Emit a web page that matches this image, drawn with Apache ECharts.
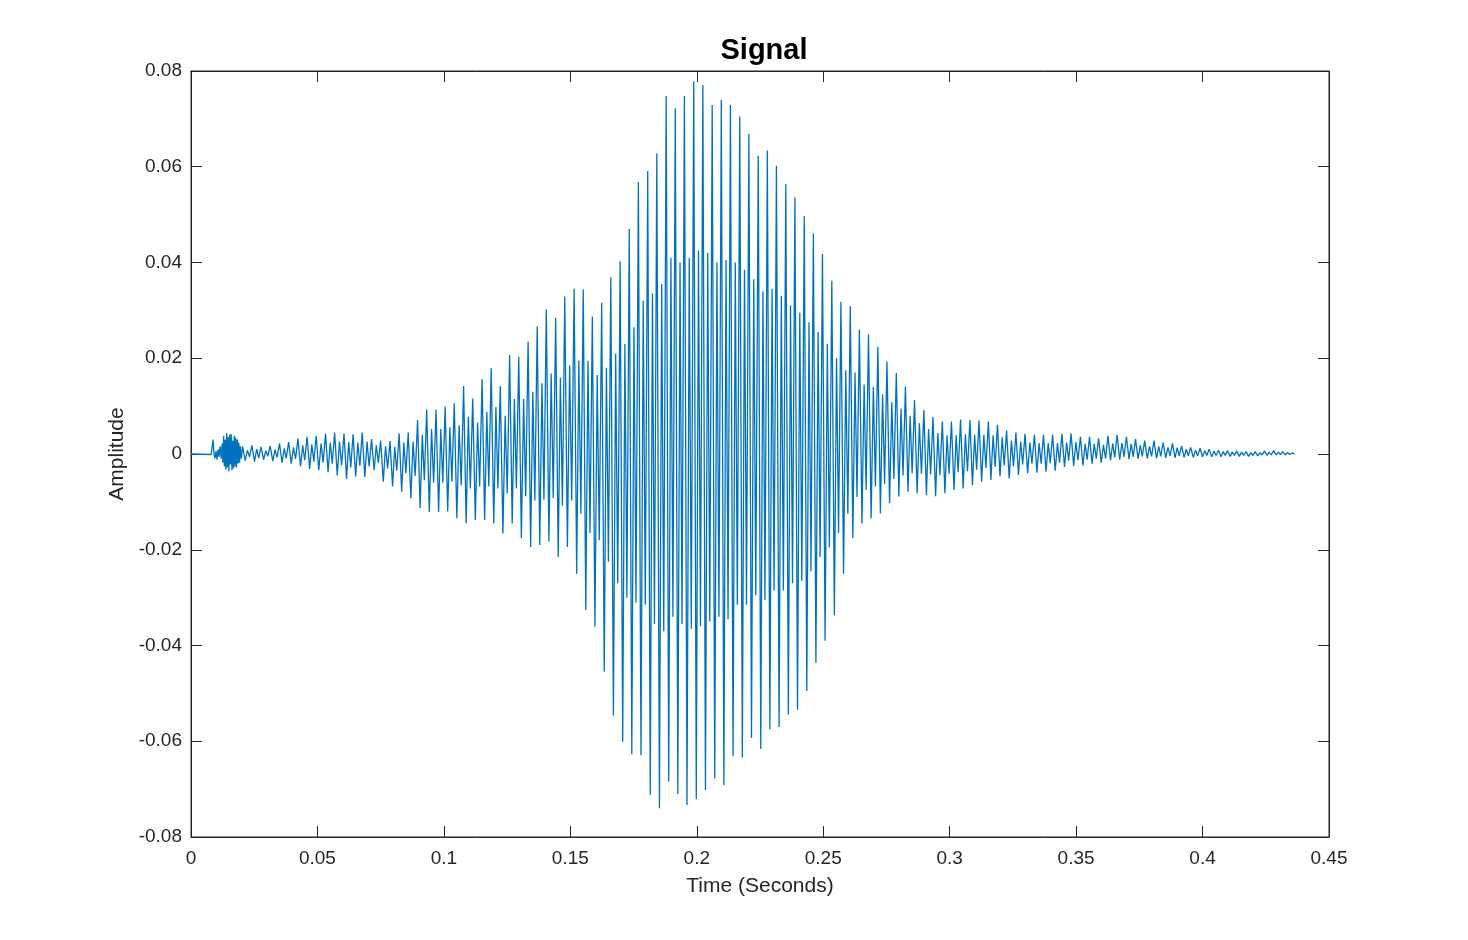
<!DOCTYPE html>
<html>
<head>
<meta charset="utf-8">
<script src="https://cdn.jsdelivr.net/npm/echarts@6/dist/echarts.min.js"></script>
<style>
html,body{margin:0;padding:0;background:#fff;}
#chart{width:1468px;height:940px;}
</style>
</head>
<body>
<div id="chart"></div>
<script>
// Tick labels
const xTicks = [0, 0.05, 0.1, 0.15, 0.2, 0.25, 0.3, 0.35, 0.4, 0.45];
const yTicks = [-0.08, -0.06, -0.04, -0.02, 0, 0.02, 0.04, 0.06, 0.08];

// Onset segment (time, amplitude)
const onsetTimes = [0.0000, 0.0080, 0.0087, 0.0091, 0.0095, 0.0099, 0.0103, 0.0107, 0.0111, 0.0115,
  0.0119, 0.0123, 0.0126, 0.0129, 0.0132, 0.0135, 0.0138, 0.0141, 0.0144, 0.0147,
  0.0150, 0.0153, 0.0156, 0.0159, 0.0162, 0.0165, 0.0168, 0.0171, 0.0174, 0.0177,
  0.0180, 0.0183, 0.0186, 0.0189, 0.0192, 0.0195, 0.0199];
const onsetValues = [0, -0.0001, 0.0030, 0.0000, -0.0009, 0.0006, -0.0012, 0.0010, -0.0006, 0.0016,
  -0.0010, 0.0022, -0.0018, 0.0038, -0.0026, 0.0030, -0.0033, 0.0044, -0.0028, 0.0036,
  -0.0036, 0.0040, -0.0022, 0.0042, -0.0034, 0.0028, -0.0030, 0.0038, -0.0026, 0.0034,
  -0.0028, 0.0030, -0.0020, 0.0024, -0.0018, 0.0016, -0.0010];

// Pitch cycles: time of each main peak
const cycleTimes = [0.0204, 0.0241, 0.0277, 0.0313, 0.0350, 0.0386, 0.0423, 0.0459, 0.0495, 0.0532,
  0.0568, 0.0605, 0.0641, 0.0677, 0.0714, 0.0750, 0.0787, 0.0823, 0.0859, 0.0896,
  0.0932, 0.0969, 0.1005, 0.1041, 0.1078, 0.1114, 0.1151, 0.1187, 0.1223, 0.1260,
  0.1296, 0.1333, 0.1369, 0.1405, 0.1442, 0.1478, 0.1515, 0.1551, 0.1587, 0.1624,
  0.1660, 0.1697, 0.1733, 0.1769, 0.1806, 0.1842, 0.1879, 0.1915, 0.1951, 0.1988,
  0.2024, 0.2061, 0.2097, 0.2133, 0.2170, 0.2206, 0.2243, 0.2279, 0.2315, 0.2352,
  0.2388, 0.2425, 0.2461, 0.2497, 0.2534, 0.2570, 0.2607, 0.2643, 0.2679, 0.2716,
  0.2752, 0.2789, 0.2825, 0.2861, 0.2898, 0.2934, 0.2971, 0.3007, 0.3043, 0.3080,
  0.3116, 0.3153, 0.3189, 0.3225, 0.3262, 0.3298, 0.3335, 0.3371, 0.3407, 0.3444,
  0.3480, 0.3517, 0.3553, 0.3589, 0.3626, 0.3662, 0.3699, 0.3735, 0.3771, 0.3808,
  0.3844, 0.3881, 0.3917, 0.3953, 0.3990, 0.4026, 0.4063, 0.4099, 0.4135, 0.4172,
  0.4208, 0.4245, 0.4281, 0.4317, 0.4354];

// Main positive peak of each cycle
const peakHigh = [0.0016, 0.0018, 0.0015, 0.0017, 0.0022, 0.0025, 0.0032, 0.0036, 0.0038, 0.0042,
  0.0045, 0.0043, 0.0041, 0.0045, 0.0031, 0.0028, 0.0027, 0.0043, 0.0045, 0.0071,
  0.0093, 0.0093, 0.0099, 0.0106, 0.0142, 0.0116, 0.0156, 0.0179, 0.0142, 0.0207,
  0.0203, 0.0235, 0.0267, 0.0302, 0.0284, 0.0329, 0.0345, 0.0344, 0.0287, 0.0316,
  0.0369, 0.0402, 0.0470, 0.0568, 0.0591, 0.0628, 0.0748, 0.0722, 0.0748, 0.0778,
  0.0771, 0.0729, 0.0740, 0.0729, 0.0705, 0.0669, 0.0623, 0.0634, 0.0602, 0.0564,
  0.0536, 0.0497, 0.0461, 0.0418, 0.0362, 0.0318, 0.0309, 0.0260, 0.0250, 0.0224,
  0.0193, 0.0169, 0.0141, 0.0113, 0.0092, 0.0077, 0.0068, 0.0068, 0.0072, 0.0071,
  0.0070, 0.0068, 0.0061, 0.0049, 0.0045, 0.0042, 0.0040, 0.0040, 0.0040, 0.0042,
  0.0043, 0.0036, 0.0036, 0.0033, 0.0038, 0.0040, 0.0036, 0.0031, 0.0028, 0.0028,
  0.0024, 0.0022, 0.0017, 0.0014, 0.0012, 0.0010, 0.0008, 0.0007, 0.0006, 0.0005,
  0.0005, 0.0006, 0.0007, 0.0005, 0.0002];

// Main negative trough of each cycle
const peakLow = [-0.0014, -0.0016, -0.0012, -0.0015, -0.0018, -0.0020, -0.0026, -0.0031, -0.0034, -0.0038,
  -0.0045, -0.0052, -0.0047, -0.0048, -0.0034, -0.0058, -0.0068, -0.0079, -0.0093, -0.0113,
  -0.0121, -0.0121, -0.0120, -0.0134, -0.0145, -0.0138, -0.0138, -0.0145, -0.0166, -0.0145,
  -0.0176, -0.0194, -0.0190, -0.0183, -0.0215, -0.0194, -0.0250, -0.0326, -0.0361, -0.0455,
  -0.0546, -0.0601, -0.0627, -0.0629, -0.0712, -0.0740, -0.0684, -0.0710, -0.0733, -0.0721,
  -0.0702, -0.0678, -0.0692, -0.0631, -0.0634, -0.0593, -0.0616, -0.0575, -0.0570, -0.0544,
  -0.0534, -0.0495, -0.0436, -0.0390, -0.0337, -0.0250, -0.0176, -0.0145, -0.0134, -0.0124,
  -0.0103, -0.0089, -0.0079, -0.0082, -0.0086, -0.0088, -0.0082, -0.0075, -0.0072, -0.0065,
  -0.0058, -0.0054, -0.0047, -0.0051, -0.0044, -0.0040, -0.0039, -0.0037, -0.0035, -0.0027,
  -0.0025, -0.0024, -0.0020, -0.0018, -0.0013, -0.0012, -0.0011, -0.0010, -0.0009, -0.0009,
  -0.0008, -0.0008, -0.0007, -0.0007, -0.0006, -0.0006, -0.0006, -0.0005, -0.0005, -0.0005,
  -0.0004, -0.0003, -0.0002, -0.0002, -0.0001];

// Secondary (inner) crest of each cycle
const innerHigh = [0.0008, 0.0010, 0.0007, 0.0009, 0.0012, 0.0014, 0.0018, 0.0020, 0.0022, 0.0024,
  0.0026, 0.0025, 0.0024, 0.0026, 0.0018, 0.0016, 0.0015, 0.0024, 0.0026, 0.0040,
  0.0052, 0.0052, 0.0056, 0.0060, 0.0078, 0.0066, 0.0088, 0.0098, 0.0080, 0.0115,
  0.0115, 0.0130, 0.0148, 0.0168, 0.0160, 0.0185, 0.0195, 0.0195, 0.0165, 0.0180,
  0.0210, 0.0230, 0.0265, 0.0320, 0.0335, 0.0355, 0.0410, 0.0400, 0.0410, 0.0425,
  0.0420, 0.0400, 0.0405, 0.0400, 0.0385, 0.0365, 0.0340, 0.0345, 0.0330, 0.0310,
  0.0295, 0.0275, 0.0255, 0.0230, 0.0200, 0.0175, 0.0170, 0.0145, 0.0140, 0.0125,
  0.0108, 0.0095, 0.0080, 0.0064, 0.0052, 0.0044, 0.0039, 0.0039, 0.0041, 0.0040,
  0.0040, 0.0039, 0.0035, 0.0028, 0.0026, 0.0024, 0.0023, 0.0023, 0.0023, 0.0024,
  0.0025, 0.0021, 0.0021, 0.0019, 0.0022, 0.0023, 0.0021, 0.0018, 0.0016, 0.0016,
  0.0014, 0.0013, 0.0010, 0.0008, 0.0007, 0.0006, 0.0005, 0.0004, 0.0004, 0.0003,
  0.0003, 0.0004, 0.0004, 0.0003, 0.0001];

// Secondary (inner) dip of each cycle
const innerLow = [-0.0006, -0.0008, -0.0005, -0.0007, -0.0009, -0.0010, -0.0013, -0.0016, -0.0018, -0.0020,
  -0.0024, -0.0028, -0.0025, -0.0026, -0.0018, -0.0030, -0.0035, -0.0040, -0.0046, -0.0055,
  -0.0060, -0.0060, -0.0058, -0.0066, -0.0072, -0.0068, -0.0068, -0.0072, -0.0082, -0.0072,
  -0.0088, -0.0097, -0.0095, -0.0092, -0.0108, -0.0097, -0.0125, -0.0165, -0.0180, -0.0225,
  -0.0270, -0.0300, -0.0310, -0.0315, -0.0355, -0.0370, -0.0340, -0.0355, -0.0365, -0.0360,
  -0.0350, -0.0340, -0.0345, -0.0315, -0.0315, -0.0295, -0.0305, -0.0285, -0.0285, -0.0270,
  -0.0265, -0.0245, -0.0215, -0.0195, -0.0165, -0.0125, -0.0090, -0.0075, -0.0068, -0.0062,
  -0.0052, -0.0045, -0.0040, -0.0041, -0.0043, -0.0044, -0.0041, -0.0038, -0.0036, -0.0033,
  -0.0029, -0.0027, -0.0024, -0.0026, -0.0022, -0.0020, -0.0020, -0.0019, -0.0018, -0.0014,
  -0.0013, -0.0012, -0.0010, -0.0009, -0.0007, -0.0006, -0.0006, -0.0005, -0.0005, -0.0005,
  -0.0004, -0.0004, -0.0004, -0.0004, -0.0003, -0.0003, -0.0003, -0.0003, -0.0003, -0.0003,
  -0.0002, -0.0002, -0.0001, -0.0001, -0.0001];

// Tail end point
const endTime = 0.4364;
const endValue = 0.0000;

// Build the polyline from the arrays above
const points = [];
for (let i = 0; i < onsetTimes.length; i++) points.push([onsetTimes[i], onsetValues[i]]);
for (let k = 0; k < cycleTimes.length; k++) {
  const t = cycleTimes[k];
  const next = k + 1 < cycleTimes.length ? cycleTimes[k + 1] : endTime;
  const span = next - t;
  points.push([t, peakHigh[k]]);
  points.push([t + span * 0.28, peakLow[k]]);
  points.push([t + span * 0.52, innerHigh[k]]);
  points.push([t + span * 0.74, innerLow[k]]);
}
points.push([endTime, endValue]);

const chart = echarts.init(document.getElementById('chart'), null, {renderer: 'canvas'});
const FONT = '"Liberation Sans", Arial, Helvetica, sans-serif';
const axisColor = '#262626';

const option = {
  animation: false,
  backgroundColor: '#ffffff',
  title: {
    text: 'Signal',
    left: 759,
    textAlign: 'center',
    top: 31,
    textStyle: {fontFamily: FONT, fontSize: 29, fontWeight: 'bold', color: '#000'}
  },
  grid: {
    left: 191, right: 139, top: 71, bottom: 103,
    show: true, borderColor: axisColor, borderWidth: 1, backgroundColor: '#fff'
  },
  xAxis: [{
    type: 'value', min: 0, max: 0.45, interval: 0.05,
    name: 'Time (Seconds)', nameLocation: 'middle', nameGap: 39,
    nameTextStyle: {fontFamily: FONT, fontSize: 21, color: axisColor},
    axisLine: {show: true, onZero: false, lineStyle: {color: axisColor, width: 1}},
    axisTick: {show: true, inside: true, length: 11, lineStyle: {color: axisColor}},
    axisLabel: {fontFamily: FONT, fontSize: 19, color: axisColor, margin: 12,
      formatter: v => { const r = xTicks.find(x => Math.abs(x - v) < 1e-9); return r === undefined ? '' : String(r); }},
    splitLine: {show: false}
  }, {
    type: 'value', min: 0, max: 0.45, interval: 0.05, position: 'top',
    axisLine: {show: true, onZero: false, lineStyle: {color: axisColor, width: 1}},
    axisTick: {show: true, inside: true, length: 11, lineStyle: {color: axisColor}},
    axisLabel: {show: false}, splitLine: {show: false}
  }],
  yAxis: [{
    type: 'value', min: -0.08, max: 0.08, interval: 0.02,
    name: 'Amplitude', nameLocation: 'middle', nameGap: 61, nameRotate: 90,
    nameTextStyle: {fontFamily: FONT, fontSize: 21, color: axisColor},
    axisLine: {show: true, onZero: false, lineStyle: {color: axisColor, width: 1}},
    axisTick: {show: true, inside: true, length: 11, lineStyle: {color: axisColor}},
    axisLabel: {fontFamily: FONT, fontSize: 19, color: axisColor, margin: 9,
      formatter: v => { const r = yTicks.find(y => Math.abs(y - v) < 1e-9); return r === undefined ? '' : String(r); }},
    splitLine: {show: false}
  }, {
    type: 'value', min: -0.08, max: 0.08, interval: 0.02, position: 'right',
    axisLine: {show: true, onZero: false, lineStyle: {color: axisColor, width: 1}},
    axisTick: {show: true, inside: true, length: 11, lineStyle: {color: axisColor}},
    axisLabel: {show: false}, splitLine: {show: false}
  }],
  series: [{
    type: 'line',
    data: points,
    xAxisIndex: 0, yAxisIndex: 0,
    showSymbol: false, symbol: 'none',
    lineStyle: {color: '#0072BD', width: 1.3},
    clip: true
  }]
};
chart.setOption(option);
</script>
</body>
</html>
